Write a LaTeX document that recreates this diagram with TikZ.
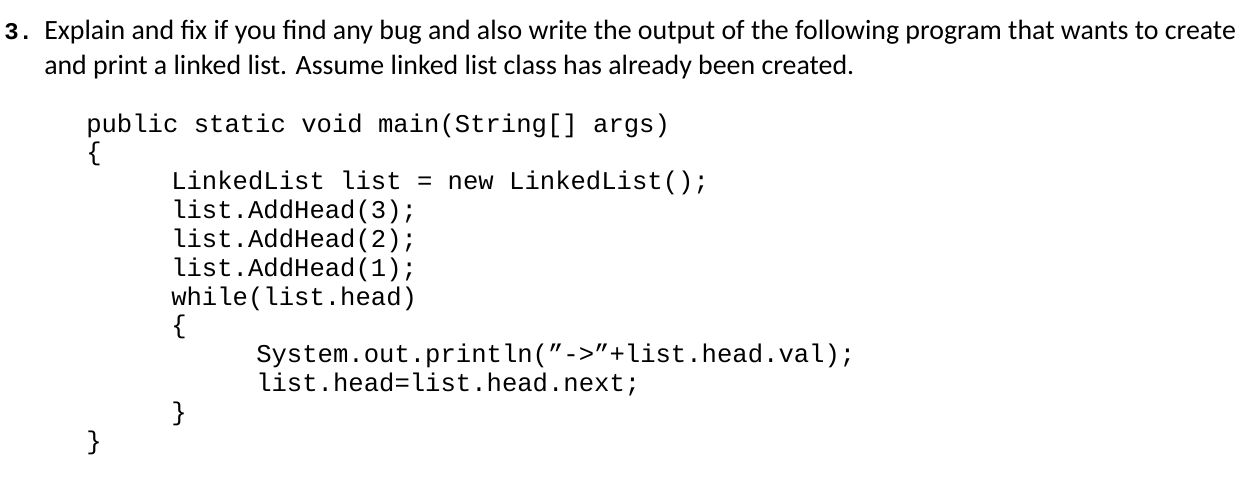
\documentclass[tikz,border=0pt]{standalone}
\usepackage{fontspec}
\setmainfont{Carlito}
\newfontfamily\codefont{Liberation Mono}
\begin{document}
\begin{tikzpicture}[x=0.75pt,y=-0.75pt,
  head/.style={anchor=base west,inner sep=0pt,font=\fontsize{20.9}{24}\selectfont},
  code/.style={anchor=base west,inner sep=0pt,font=\codefont\fontsize{19.2}{22}\selectfont}]
\useasboundingbox (0,0) rectangle (1247,493);
\node[head,font=\codefont\bfseries\fontsize{18}{22}\selectfont] (n) at (4,39) {3.};
\node[head] (h1) at (44,39) {Explain and fix if you find any bug and also write the output of the following program that wants to create};
\node[head] (h2) at (44,74) {and print a linked list. Assume linked list class has already been created.};
\node[code] (c1) at (86,132) {public static void main(String[] args)};
\node[code] (c2) at (86,160) {\{};
\node[code] (c3) at (171,189) {LinkedList list = new LinkedList();};
\node[code] (c4) at (171,218) {list.AddHead(3);};
\node[code] (c5) at (171,247) {list.AddHead(2);};
\node[code] (c6) at (171,276) {list.AddHead(1);};
\node[code] (c7) at (171,305) {while(list.head)};
\node[code] (c8) at (171,333) {\{};
\node[code] (c9) at (256,362) {System.out.println(”->”+list.head.val);};
\node[code] (c10) at (256,391) {list.head=list.head.next;};
\node[code] (c11) at (171,420) {\}};
\node[code] (c12) at (86,449) {\}};
\end{tikzpicture}
\end{document}
